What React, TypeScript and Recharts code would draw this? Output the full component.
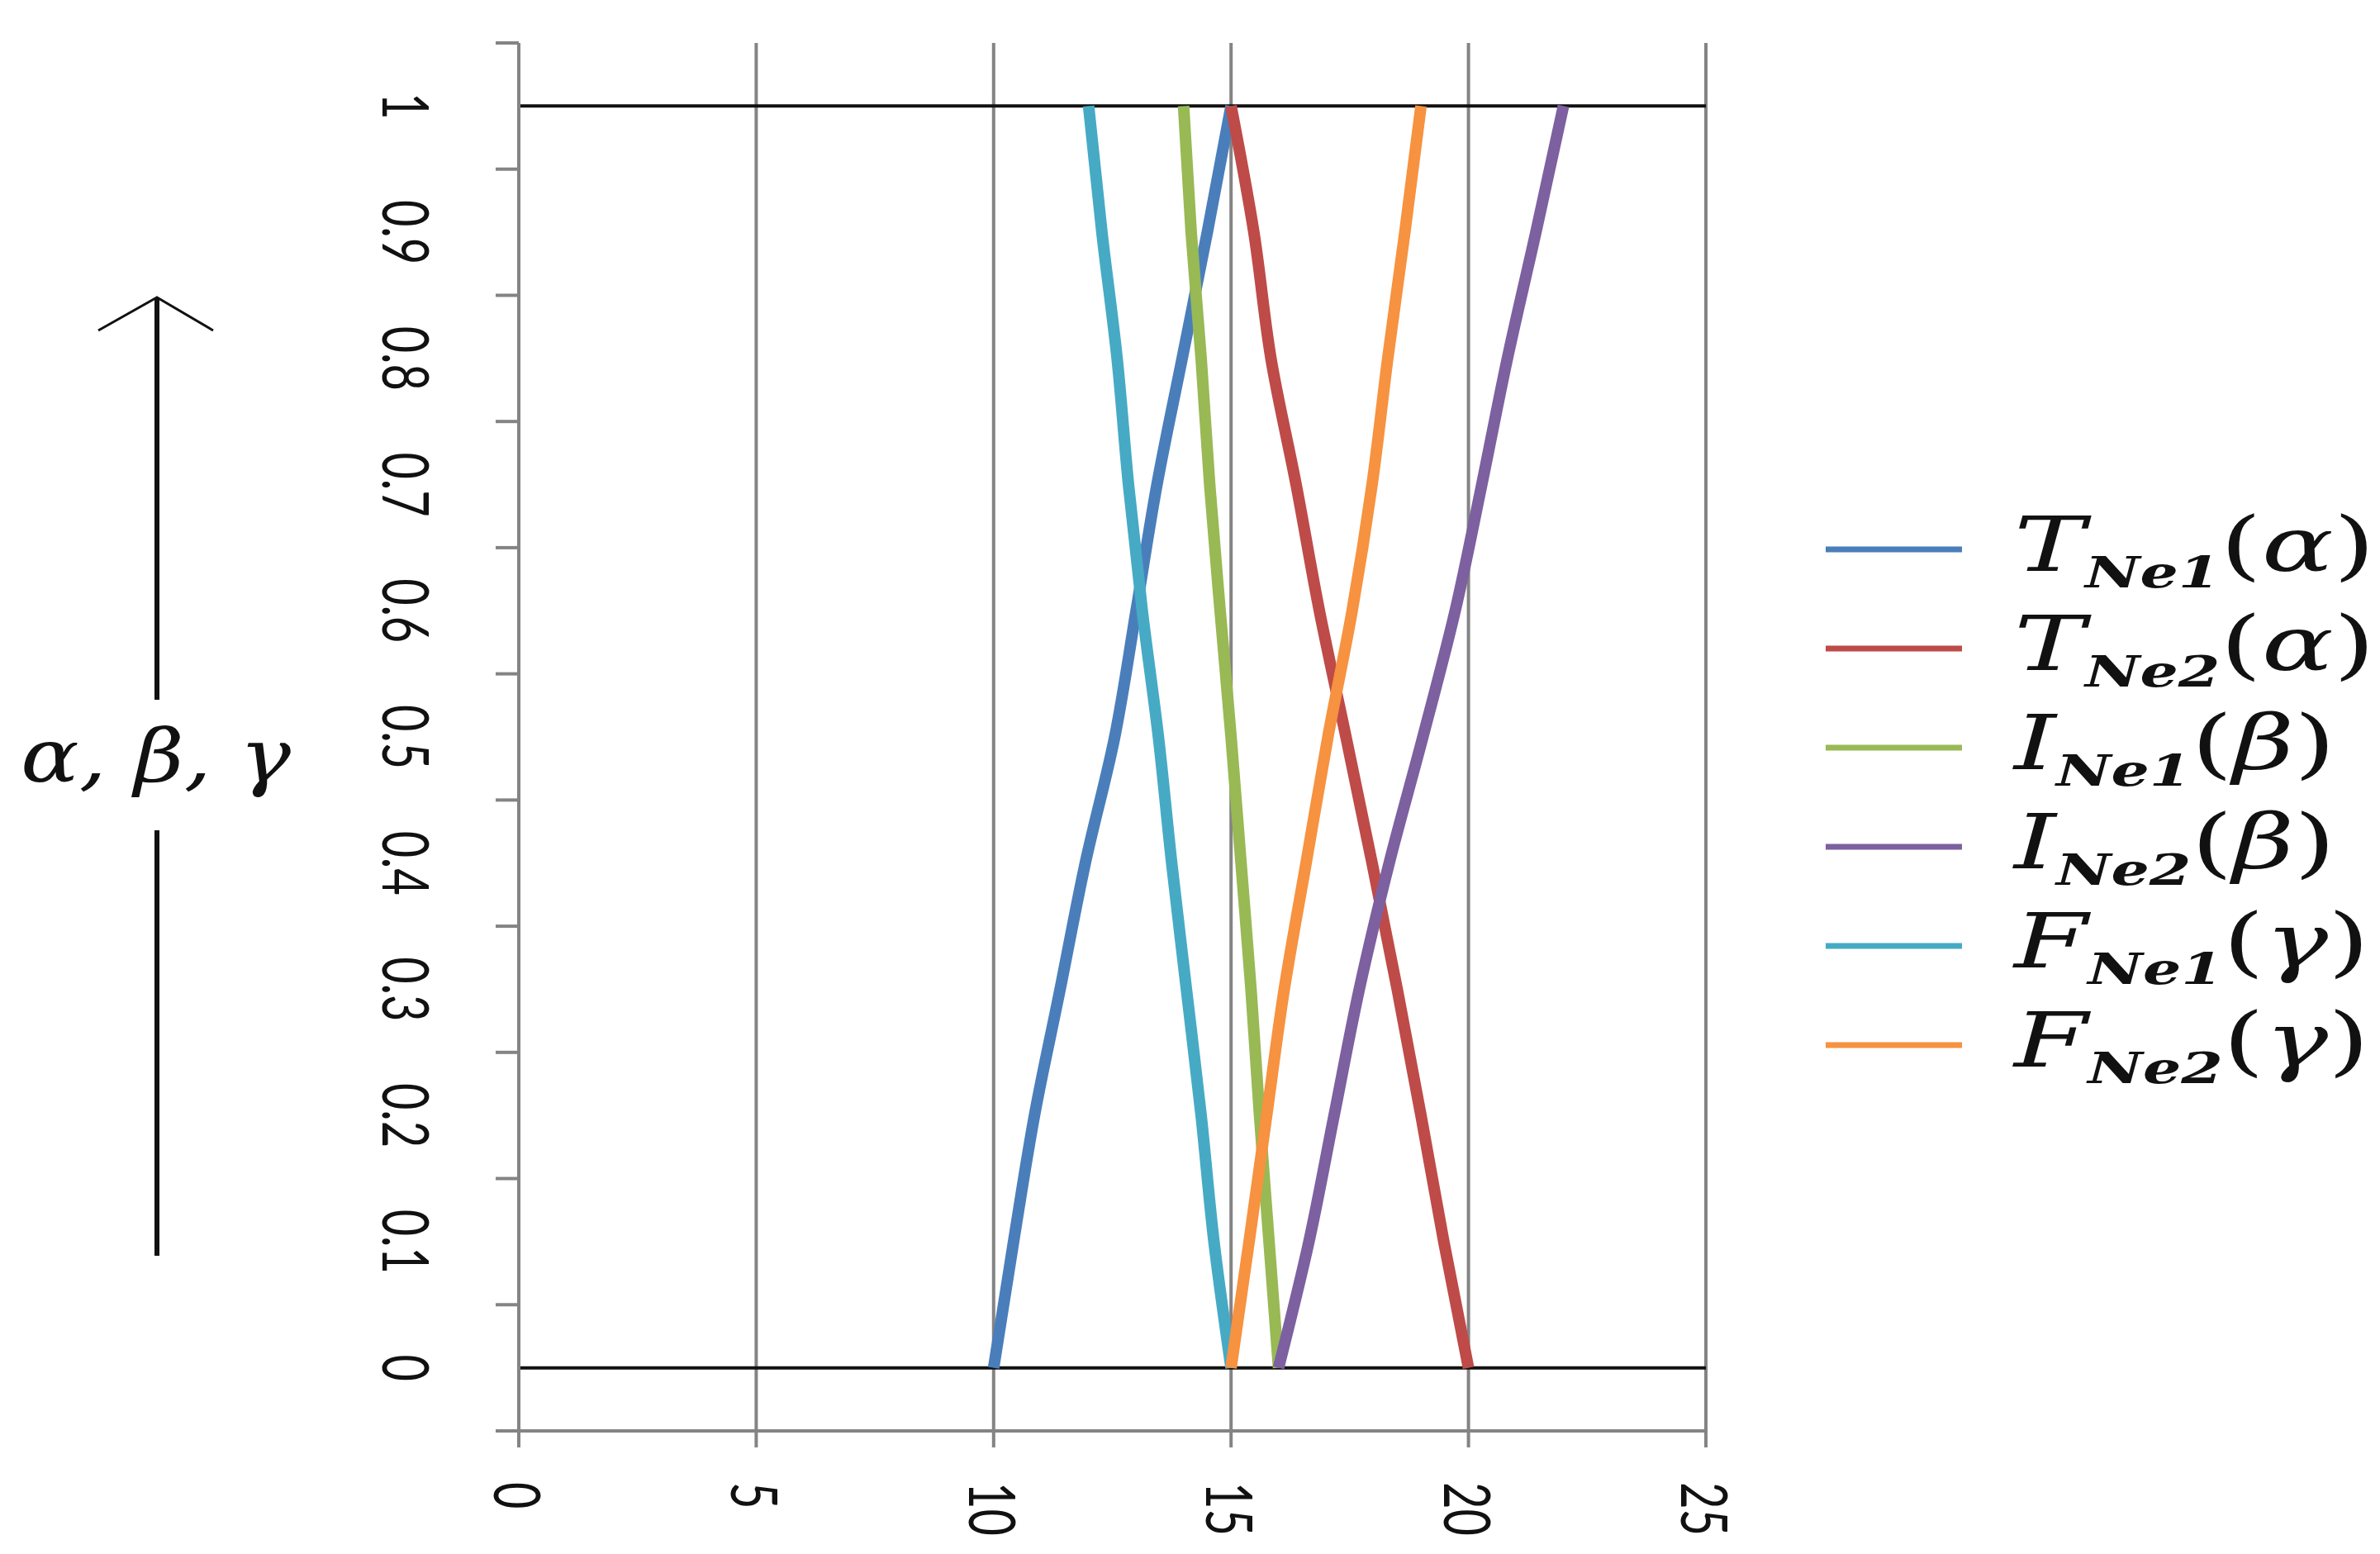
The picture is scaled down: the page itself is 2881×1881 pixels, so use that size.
import React from 'react'
import { LineChart, Line, XAxis, YAxis, CartesianGrid, ReferenceLine, Legend } from 'recharts'

// membership level (vertical axis), bottom to top
const alphaLevels = [0, 0.1, 0.2, 0.3, 0.4, 0.5, 0.6, 0.7, 0.8, 0.9, 1]

// x position of each curve at every level
const tNe1 = [10, 10.42, 10.86, 11.4, 11.93, 12.55, 13.0, 13.44, 13.97, 14.5, 15]
const tNe2 = [20, 19.48, 19.0, 18.5, 17.97, 17.42, 16.86, 16.37, 15.84, 15.48, 15]
const iNe1 = [16, 15.8, 15.6, 15.42, 15.21, 15.0, 14.77, 14.55, 14.37, 14.16, 14]
const iNe2 = [16, 16.64, 17.17, 17.7, 18.33, 19.04, 19.72, 20.28, 20.82, 21.42, 22]
const fNe1 = [15, 14.64, 14.37, 14.06, 13.75, 13.47, 13.13, 12.84, 12.6, 12.28, 12]
const fNe2 = [15, 15.38, 15.75, 16.12, 16.58, 17.04, 17.55, 17.97, 18.3, 18.66, 19]

const xTicks = [0, 5, 10, 15, 20, 25]
// category boundaries (tick marks sit between the labels)
const yMarkTicks = [-0.05, 0.05, 0.15, 0.25, 0.35, 0.45, 0.55, 0.65, 0.75, 0.85, 0.95, 1.05]

const series = [
  { key: 'tNe1', letter: 'T', sub: 'Ne1', arg: 'α', color: '#4a7ebb' },
  { key: 'tNe2', letter: 'T', sub: 'Ne2', arg: 'α', color: '#be4b48' },
  { key: 'iNe1', letter: 'I', sub: 'Ne1', arg: 'β', color: '#98b954' },
  { key: 'iNe2', letter: 'I', sub: 'Ne2', arg: 'β', color: '#7d60a0' },
  { key: 'fNe1', letter: 'F', sub: 'Ne1', arg: 'γ', color: '#46aac5' },
  { key: 'fNe2', letter: 'F', sub: 'Ne2', arg: 'γ', color: '#f69240' },
]

const values: Record<string, number[]> = { tNe1, tNe2, iNe1, iNe2, fNe1, fNe2 }

const data = alphaLevels.map((a, i) => {
  const row: Record<string, number> = { alpha: a }
  series.forEach((s) => (row[s.key] = values[s.key][i]))
  return row
})

const GRID = '#848484'
const tickFont = 'Lato, "Open Sans", sans-serif'

function XTick({ x, y, payload }: any) {
  return (
    <text
      transform={`translate(${x},${y}) scale(1.4,1) rotate(90)`}
      textAnchor="start"
      dominantBaseline="central"
      fontFamily={tickFont}
      fontSize={56}
      fill="#111"
    >
      {payload.value}
    </text>
  )
}

function YTick({ x, y, payload }: any) {
  return (
    <text
      transform={`translate(${x},${y}) scale(1.4,1) rotate(90)`}
      textAnchor="middle"
      dominantBaseline="central"
      fontFamily={tickFont}
      fontSize={56}
      fill="#111"
    >
      {payload.value}
    </text>
  )
}

// tick lines only, no label
function NoLabel() {
  return <g />
}

// legend keeps the series order of the original
function LegendBox() {
  return (
    <svg width={680} height={730}>
      {series.map((s, i) => {
        const cy = 60 + i * 120
        return (
          <g key={s.key}>
            <line x1={10} x2={175} y1={cy} y2={cy} stroke={s.color} strokeWidth={7} />
            <g transform={`translate(238,${cy + 26}) scale(1.4,1)`}>
              <text fontFamily='"DejaVu Serif", serif' fontStyle="italic" fontSize={92} fill="#111">
                {s.letter}
                <tspan fontSize={52} fontWeight="bold" dy={20}>{s.sub}</tspan>
                <tspan dy={-20} fontStyle="normal">(</tspan>
                <tspan>{s.arg}</tspan>
                <tspan fontStyle="normal">)</tspan>
              </text>
            </g>
          </g>
        )
      })}
    </svg>
  )
}

export default function App() {
  return (
    <div style={{ position: 'relative', width: 2881, height: 1881, background: '#fff' }}>
      <style>{'body{margin:0}'}</style>
      <LineChart
        width={2881}
        height={1881}
        data={data}
        layout="vertical"
        margin={{ top: 52, right: 816, bottom: 49, left: 428 }}
      >
        <CartesianGrid horizontal={false} stroke={GRID} strokeWidth={4} />
        <XAxis
          type="number"
          domain={[0, 25]}
          ticks={xTicks}
          interval={0}
          height={100}
          stroke={GRID}
          strokeWidth={4}
          tickSize={20}
          tickMargin={42}
          tick={<XTick />}
        />
        <YAxis
          yAxisId="b"
          type="number"
          dataKey="alpha"
          domain={[-0.05, 1.05]}
          allowDataOverflow
          reversed
          ticks={alphaLevels}
          interval={0}
          width={172}
          axisLine={false}
          tickLine={false}
          tickSize={0}
          tickMargin={107}
          tick={<YTick />}
        />
        <YAxis
          yAxisId="a"
          type="number"
          dataKey="alpha"
          domain={[-0.05, 1.05]}
          allowDataOverflow
          reversed
          ticks={yMarkTicks}
          interval={0}
          width={28}
          stroke={GRID}
          strokeWidth={4}
          tickSize={28}
          tick={<NoLabel />}
        />
        <ReferenceLine yAxisId="a" y={0} stroke="#111" strokeWidth={4} />
        <ReferenceLine yAxisId="a" y={1} stroke="#111" strokeWidth={4} />
        {series.map((s) => (
          <Line
            key={s.key}
            yAxisId="a"
            dataKey={s.key}
            name={s.key}
            type="monotone"
            stroke={s.color}
            strokeWidth={14}
            dot={false}
            isAnimationActive={false}
          />
        ))}
        <Legend
          layout="horizontal"
          align="center"
          verticalAlign="middle"
          content={<LegendBox />}
          wrapperStyle={{ left: 2200, top: 605, width: 680, height: 730 }}
        />
      </LineChart>
      <svg
        width={420}
        height={1881}
        style={{ position: 'absolute', left: 0, top: 0, pointerEvents: 'none' }}
      >
        <line x1={190} x2={190} y1={360} y2={847} stroke="#111" strokeWidth={6} />
        <line x1={190} x2={190} y1={1005} y2={1520} stroke="#111" strokeWidth={6} />
        <polyline points="119,400 190,360 258,400" fill="none" stroke="#111" strokeWidth={3} />
        <text
          x={25}
          y={946}
          textLength={327}
          lengthAdjust="spacingAndGlyphs"
          fontFamily='"DejaVu Serif", serif'
          fontStyle="italic"
          fontSize={90}
          fill="#111"
        >
          α, β, γ
        </text>
      </svg>
    </div>
  )
}
